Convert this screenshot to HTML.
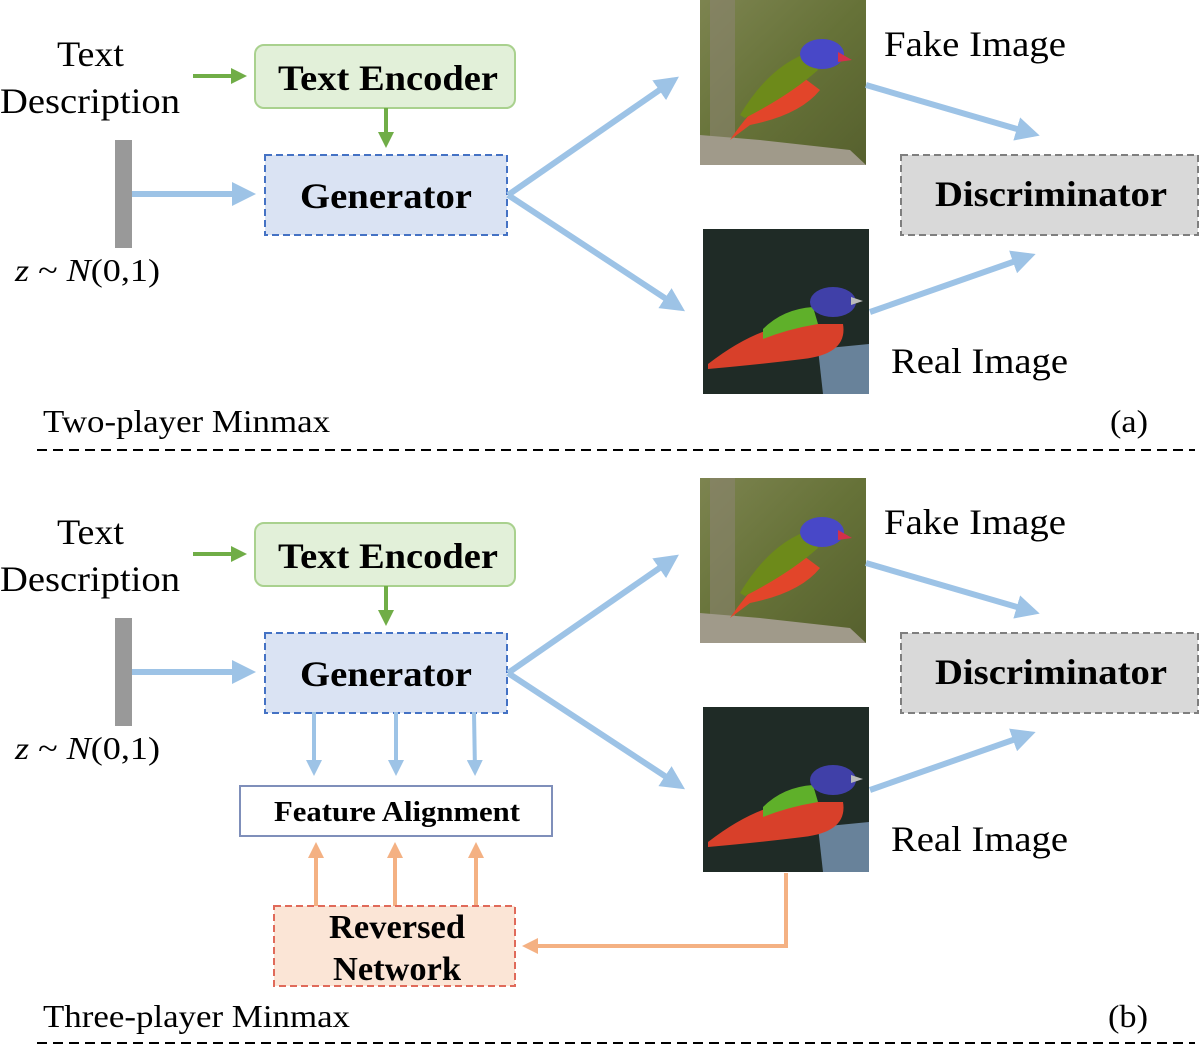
<!DOCTYPE html>
<html><head><meta charset="utf-8"><style>
html,body{margin:0;padding:0;background:#fff;width:1200px;height:1046px;overflow:hidden}
text{font-family:"Liberation Serif",serif}
</style></head><body>
<svg width="1200" height="1046" viewBox="0 0 1200 1046" xmlns="http://www.w3.org/2000/svg">
<defs>
<marker id="ab" markerWidth="4" markerHeight="4" refX="3" refY="2" orient="auto" markerUnits="strokeWidth"><path d="M0,0 L4,2 L0,4 z" fill="#9dc3e6"/></marker>
<marker id="ag" markerWidth="4" markerHeight="4" refX="3" refY="2" orient="auto" markerUnits="strokeWidth"><path d="M0,0 L4,2 L0,4 z" fill="#70ad47"/></marker>
<marker id="ao" markerWidth="4" markerHeight="4" refX="3" refY="2" orient="auto" markerUnits="strokeWidth"><path d="M0,0 L4,2 L0,4 z" fill="#f4b183"/></marker>
<linearGradient id="fbg" x1="0" y1="0" x2="1" y2="1"><stop offset="0" stop-color="#7d8450"/><stop offset="0.5" stop-color="#667238"/><stop offset="1" stop-color="#56602e"/></linearGradient>
<g id="fake">
<rect width="166" height="165" fill="url(#fbg)"/>
<rect x="10" y="0" width="25" height="165" fill="#8a8470" opacity="0.6"/>
<path d="M0,135 L60,140 L150,150 L166,165 L0,165z" fill="#a09a8a"/>
<path d="M30,140 Q60,95 100,75 L120,90 Q100,115 50,125z" fill="#e2452a"/>
<path d="M40,115 Q70,65 110,52 L118,70 Q90,95 45,118z" fill="#6d8a1a"/>
<ellipse cx="122" cy="54" rx="22" ry="15" fill="#4848c8"/>
<path d="M138,52 L152,60 L138,62z" fill="#d4304a"/>
</g>
<g id="real">
<rect width="166" height="165" fill="#1f2b26"/>
<path d="M115,120 L166,115 L166,165 L120,165z" fill="#7a98b8" opacity="0.8"/>
<path d="M5,135 Q50,100 90,95 L140,95 Q145,125 100,130 Q60,135 5,140z" fill="#d8402a"/>
<path d="M60,100 Q80,80 110,78 L115,95 Q85,100 60,110z" fill="#5fb02a"/>
<ellipse cx="130" cy="73" rx="23" ry="15" fill="#4040a8"/>
<path d="M148,68 L160,72 L148,76z" fill="#bbb"/>
</g>
</defs>

<g id="panel">
<text x="57" y="66" font-size="36" textLength="67" lengthAdjust="spacingAndGlyphs">Text</text>
<text x="0" y="113" font-size="36" textLength="180" lengthAdjust="spacingAndGlyphs">Description</text>
<line x1="193" y1="76" x2="243" y2="76" stroke="#70ad47" stroke-width="4" marker-end="url(#ag)"/>
<rect x="255" y="45" width="260" height="63" rx="9" fill="#e2f0d9" stroke="#a9d18e" stroke-width="2"/>
<text x="278" y="90" font-size="36" font-weight="bold" textLength="220" lengthAdjust="spacingAndGlyphs">Text Encoder</text>
<line x1="386" y1="108" x2="386" y2="144" stroke="#70ad47" stroke-width="4" marker-end="url(#ag)"/>
<rect x="265" y="155" width="242" height="80" fill="#dae3f3" stroke="#4472c4" stroke-width="2" stroke-dasharray="7,4"/>
<text x="300" y="208" font-size="36" font-weight="bold" textLength="172" lengthAdjust="spacingAndGlyphs">Generator</text>
<rect x="115" y="140" width="17" height="108" fill="#999"/>
<line x1="132" y1="194" x2="250" y2="194" stroke="#9dc3e6" stroke-width="6" marker-end="url(#ab)"/>
<text x="15" y="281" font-size="32" textLength="145" lengthAdjust="spacingAndGlyphs"><tspan font-style="italic">z</tspan> ~ <tspan font-style="italic">N</tspan>(0,1)</text>
<line x1="508" y1="195" x2="674" y2="80" stroke="#9dc3e6" stroke-width="6" marker-end="url(#ab)"/>
<line x1="508" y1="195" x2="680" y2="308" stroke="#9dc3e6" stroke-width="6" marker-end="url(#ab)"/>
<use href="#fake" x="700" y="0"/>
<use href="#real" x="703" y="229"/>
<text x="884" y="56" font-size="36" textLength="182" lengthAdjust="spacingAndGlyphs">Fake Image</text>
<text x="891" y="373" font-size="36" textLength="177" lengthAdjust="spacingAndGlyphs">Real Image</text>
<line x1="866" y1="85" x2="1034" y2="134" stroke="#9dc3e6" stroke-width="6" marker-end="url(#ab)"/>
<line x1="870" y1="312" x2="1030" y2="256" stroke="#9dc3e6" stroke-width="6" marker-end="url(#ab)"/>
<rect x="901" y="155" width="297" height="80" fill="#d9d9d9" stroke="#7f7f7f" stroke-width="2" stroke-dasharray="7,4"/>
<text x="935" y="206" font-size="36" font-weight="bold" textLength="232" lengthAdjust="spacingAndGlyphs">Discriminator</text>
</g>
<text x="43" y="432" font-size="32" textLength="287" lengthAdjust="spacingAndGlyphs">Two-player Minmax</text>
<text x="1110" y="432" font-size="32" textLength="38" lengthAdjust="spacingAndGlyphs">(a)</text>
<line x1="37" y1="450" x2="1195" y2="450" stroke="#000" stroke-width="2" stroke-dasharray="10,6"/>

<use href="#panel" x="0" y="478"/>
<line x1="314" y1="712" x2="314" y2="772" stroke="#9dc3e6" stroke-width="4" marker-end="url(#ab)"/>
<line x1="396" y1="712" x2="396" y2="772" stroke="#9dc3e6" stroke-width="4" marker-end="url(#ab)"/>
<line x1="474" y1="712" x2="475" y2="772" stroke="#9dc3e6" stroke-width="4" marker-end="url(#ab)"/>
<rect x="240" y="786" width="312" height="50" fill="#fff" stroke="#7f8fba" stroke-width="2"/>
<text x="274" y="821" font-size="28" font-weight="bold" textLength="246" lengthAdjust="spacingAndGlyphs">Feature Alignment</text>
<line x1="316" y1="906" x2="316" y2="846" stroke="#f4b183" stroke-width="4" marker-end="url(#ao)"/>
<line x1="395" y1="906" x2="395" y2="846" stroke="#f4b183" stroke-width="4" marker-end="url(#ao)"/>
<line x1="476" y1="906" x2="476" y2="846" stroke="#f4b183" stroke-width="4" marker-end="url(#ao)"/>
<rect x="274" y="906" width="241" height="80" fill="#fbe5d6" stroke="#e06a5a" stroke-width="2" stroke-dasharray="7,4"/>
<text x="329" y="938" font-size="34" font-weight="bold" textLength="136" lengthAdjust="spacingAndGlyphs">Reversed</text>
<text x="333" y="980" font-size="34" font-weight="bold" textLength="128" lengthAdjust="spacingAndGlyphs">Network</text>
<polyline points="786,873 786,946 526,946" fill="none" stroke="#f4b183" stroke-width="4" marker-end="url(#ao)"/>
<text x="43" y="1027" font-size="32" textLength="307" lengthAdjust="spacingAndGlyphs">Three-player Minmax</text>
<text x="1108" y="1027" font-size="32" textLength="40" lengthAdjust="spacingAndGlyphs">(b)</text>
<line x1="37" y1="1043" x2="1195" y2="1043" stroke="#000" stroke-width="2" stroke-dasharray="10,6"/>
</svg>
</body></html>
